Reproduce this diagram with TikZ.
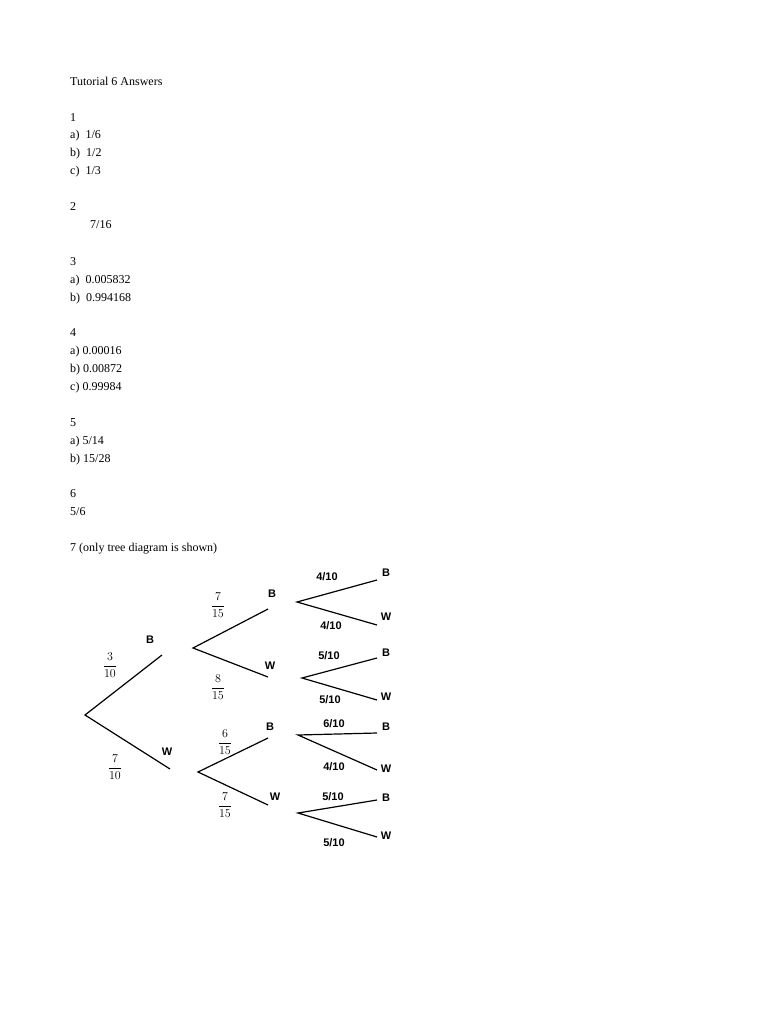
\documentclass[tikz,border=0pt]{standalone}
\usepackage{amsmath}
\usepackage{fontspec}
\setmainfont{Liberation Serif}
\newfontfamily\handfont{Liberation Sans}
\begin{document}
\begin{tikzpicture}[x=1pt,y=-1pt,
  txt/.style={anchor=base west,inner sep=0pt,font=\fontsize{12}{14}\selectfont},
  br/.style={line width=1.2pt},
  lab/.style={font=\handfont\fontsize{11}{12}\selectfont\bfseries,inner sep=0pt},
  frac/.style={lab,font=\fontsize{13}{14}\selectfont\bfseries},
  leaf/.style={lab}]
\useasboundingbox (0,0) rectangle (768,1024);
% answers text
\foreach \t/\y in {{Tutorial 6 Answers}/86,1/122,{a)\ \ 1/6}/139,{b)\ \ 1/2}/157,{c)\ \ 1/3}/175,
  2/211,3/265,{a)\ \ 0.005832}/283,{b)\ \ 0.994168}/301,4/336,{a) 0.00016}/354,{b) 0.00872}/372,
  {c) 0.99984}/390,5/426,{a) 5/14}/444,{b) 15/28}/462,6/497,{5/6}/515,{7 (only tree diagram is shown)}/551}
  \node[txt] at (70,\y) {\t};
\node[txt] at (90,229) {7/16};
% tree nodes
\coordinate (r) at (85,715);
\coordinate (b) at (162,655); \coordinate (w) at (170,769);
\coordinate (fb) at (193,648); \coordinate (bb) at (268,609); \coordinate (bw) at (268,677);
\coordinate (fw) at (198,772); \coordinate (wb) at (268,738); \coordinate (ww) at (268,805);
\coordinate (f1) at (297,602); \coordinate (l1) at (377,580); \coordinate (l2) at (377,625);
\coordinate (f2) at (302,678); \coordinate (l3) at (377,658); \coordinate (l4) at (377,700);
\coordinate (f3) at (298,735); \coordinate (l5) at (377,733); \coordinate (l6) at (377,770);
\coordinate (f4) at (298,813); \coordinate (l7) at (377,800); \coordinate (l8) at (377,837);
% branches
\draw[br] (b) -- (r) -- (w);
\draw[br] (bb) -- (fb) -- (bw);
\draw[br] (wb) -- (fw) -- (ww);
\draw[br] (l1) -- (f1) -- (l2);
\draw[br] (l3) -- (f2) -- (l4);
\draw[br] (l5) -- (f3) -- (l6);
\draw[br] (l7) -- (f4) -- (l8);
% labels
\node[lab] (p1) at (150,640) {B};
\node[lab] (p2) at (167,752) {W};
\node[frac] (q1) at (110,665) {$\dfrac{3}{10}$};
\node[frac] (q2) at (115,767) {$\dfrac{7}{10}$};
\node[frac] (q3) at (218,605) {$\dfrac{7}{15}$};
\node[frac] (q4) at (218,687) {$\dfrac{8}{15}$};
\node[frac] (q5) at (225,742) {$\dfrac{6}{15}$};
\node[frac] (q6) at (225,805) {$\dfrac{7}{15}$};
\node[lab] (s1) at (272,594) {B};
\node[lab] (s2) at (270,666) {W};
\node[lab] (s3) at (270,727) {B};
\node[lab] (s4) at (275,797) {W};
\node[lab] (t1) at (327,577) {4/10};
\node[lab] (t2) at (331,626) {4/10};
\node[lab] (t3) at (329,656) {5/10};
\node[lab] (t4) at (330,700) {5/10};
\node[lab] (t5) at (334,724) {6/10};
\node[lab] (t6) at (334,767) {4/10};
\node[lab] (t7) at (333,797) {5/10};
\node[lab] (t8) at (334,843) {5/10};
\foreach \n/\t/\y in {a/B/573,b/W/617,c/B/653,d/W/697,e/B/727,f/W/769,g/B/798,h/W/836}
  \node[leaf] (leaf\n) at (386,\y) {\t};
\end{tikzpicture}
\end{document}
